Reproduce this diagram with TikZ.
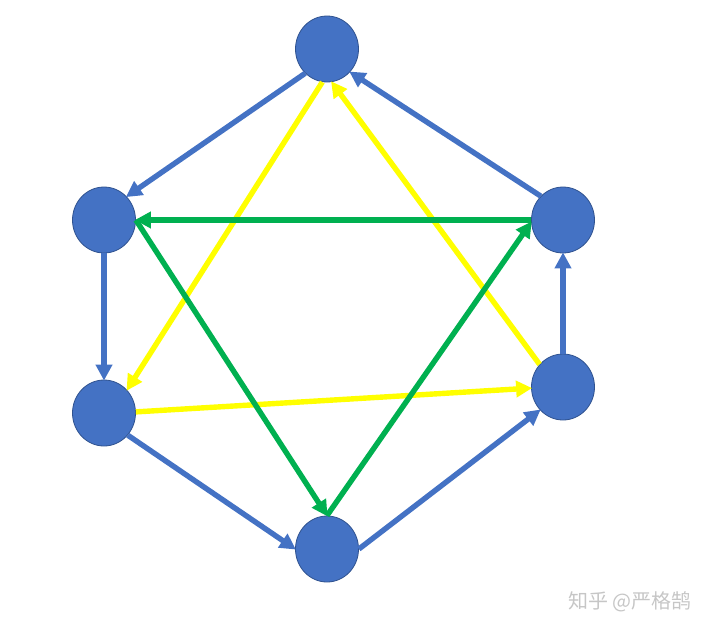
\documentclass[tikz,border=0pt]{standalone}
\usepackage{fontspec}
\newfontfamily\cjk{Noto Sans CJK SC}
\usetikzlibrary{arrows.meta,shapes.geometric}
\definecolor{nodeblue}{HTML}{4472C4}
\definecolor{nodeedge}{HTML}{2F528F}
\definecolor{edgegreen}{HTML}{00B050}
\definecolor{edgeyellow}{HTML}{FFFF00}
\tikzset{
  vtx/.style={ellipse, fill=nodeblue, draw=nodeedge, line width=0.8pt, minimum width=63pt, minimum height=66pt, inner sep=0pt},
  conn/.style={line width=5.4pt, -{Triangle[length=16pt,width=16pt]}, shorten >=-1pt},
  blueconn/.style={conn, draw=nodeblue},
  greenconn/.style={conn, draw=edgegreen},
  yellowconn/.style={conn, draw=edgeyellow},
}
\begin{document}
\begin{tikzpicture}[x=1pt,y=-1pt]
\useasboundingbox (0,0) rectangle (713,633);
\node[vtx] (T) at (327,49) {};
\node[vtx] (UL) at (104,220) {};
\node[vtx] (UR) at (563,220) {};
\node[vtx] (LL) at (104,413) {};
\node[vtx] (LR) at (563,387) {};
\node[vtx] (B) at (327,549) {};
% yellow
\draw[yellowconn] (T.262) -- (LL.45);
\draw[yellowconn] (LR.136) -- (T.-82);
\draw[yellowconn] (LL.2) -- (LR.182);
% green
\draw[greenconn] (UR.west) -- (UL.east);
\draw[greenconn] (UL.east) -- (B.north);
\draw[greenconn] (B.north) -- (UR.184);
% blue
\draw[blueconn] (T.228) -- (UL.46);
\draw[blueconn] (UR.133) -- (T.-45);
\draw[blueconn] (UL.south) -- (LL.north);
\draw[blueconn] (LR.north) -- (UR.south);
\draw[blueconn] (LL.-43) -- (B.180);
\draw[blueconn] (B.0) -- (LR.225);
\node[text=gray!45, font=\cjk\fontsize{20}{24}\selectfont, anchor=center] (wm) at (630,602) {知乎 @严格鹄};
\end{tikzpicture}
\end{document}
